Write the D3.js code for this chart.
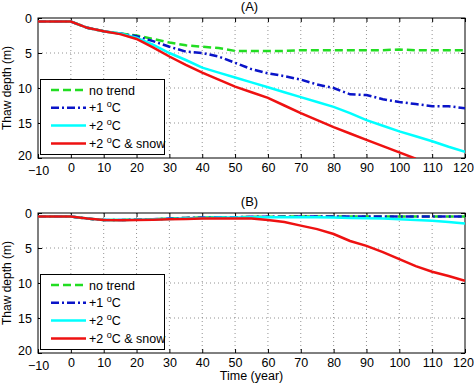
<!DOCTYPE html>
<html>
<head>
<meta charset="utf-8">
<script src="https://cdn.jsdelivr.net/npm/d3@7"></script>
<style>
    body { margin: 0; background: #fff; }
    svg text { font-family: "Liberation Sans", Arial, sans-serif; }
</style>
</head>
<body>
<div id="chart"></div>
<script>
(function()
{
    // shared time axis (year)
    var years = [-10, 0, 5, 10, 15, 20, 25, 30, 35, 40, 45, 50, 55, 60, 65, 70, 75, 80, 85, 90, 95, 100, 105, 110, 115, 120];

    // panel (A)
    var aNoTrend = [0.5, 0.5, 1.4, 1.9, 2.2, 2.5, 3.0, 3.5, 3.9, 4.1, 4.3, 4.7, 4.7, 4.7, 4.7, 4.6, 4.6, 4.6, 4.6, 4.6, 4.6, 4.5, 4.6, 4.6, 4.6, 4.6];
    var aPlus1 = [0.5, 0.5, 1.4, 1.9, 2.2, 2.6, 3.3, 4.1, 4.8, 5.0, 5.5, 6.4, 7.3, 7.9, 8.3, 8.8, 9.5, 10.0, 10.9, 11.0, 11.6, 12.0, 12.3, 12.6, 12.6, 12.9];
    var aPlus2 = [0.5, 0.5, 1.4, 1.9, 2.2, 2.8, 3.8, 5.0, 6.0, 7.1, 7.8, 8.5, 9.2, 9.9, 10.6, 11.3, 12.0, 12.7, 13.6, 14.6, 15.4, 16.2, 16.9, 17.6, 18.4, 19.1];
    var aSnow = [0.5, 0.5, 1.4, 1.9, 2.3, 3.0, 4.2, 5.5, 6.7, 7.8, 8.8, 9.8, 10.6, 11.4, 12.5, 13.6, 14.6, 15.6, 16.5, 17.4, 18.3, 19.2, 20.1, null, null, null];

    // panel (B)
    var bNoTrend = [0.5, 0.5, 0.8, 1.0, 1.0, 0.95, 0.9, 0.8, 0.7, 0.65, 0.6, 0.6, 0.55, 0.55, 0.5, 0.5, 0.5, 0.5, 0.5, 0.5, 0.5, 0.5, 0.5, 0.5, 0.5, 0.5];
    var bPlus1 = [0.5, 0.5, 0.8, 1.0, 1.0, 0.95, 0.9, 0.8, 0.7, 0.65, 0.6, 0.6, 0.55, 0.55, 0.55, 0.5, 0.5, 0.5, 0.5, 0.5, 0.5, 0.5, 0.5, 0.5, 0.5, 0.5];
    var bPlus2 = [0.5, 0.5, 0.8, 1.0, 1.0, 0.95, 0.9, 0.85, 0.75, 0.7, 0.65, 0.65, 0.6, 0.6, 0.6, 0.6, 0.6, 0.65, 0.7, 0.75, 0.8, 0.9, 1.0, 1.1, 1.3, 1.5];
    var bSnow = [0.5, 0.5, 0.8, 1.0, 1.05, 1.0, 0.95, 0.9, 0.85, 0.8, 0.8, 0.8, 0.8, 1.0, 1.3, 1.8, 2.3, 3.0, 4.0, 4.7, 5.6, 6.6, 7.6, 8.4, 9.0, 9.7];

    var seriesNames = ['no trend', '+1 \u00B0C', '+2 \u00B0C', '+2 \u00B0C & snow'];
    var xTicks = [-10, 0, 10, 20, 30, 40, 50, 60, 70, 80, 90, 100, 110, 120];
    var yTicks = [0, 5, 10, 15, 20];

    var styles = [
        { color : '#22dd22', dash : '8,4' },
        { color : '#0a14c8', dash : '8,3,2,3' },
        { color : '#00ffff', dash : null },
        { color : '#ee1111', dash : null }
    ];

    var W = 474, H = 384;
    var svg = d3.select('#chart').append('svg').attr('width', W).attr('height', H);

    var x = d3.scaleLinear().domain([-10, 120]).range([38, 465]);

    var panels = [
        { title : '(A)', top : 18, data : [aNoTrend, aPlus1, aPlus2, aSnow], legendTop : 79 },
        { title : '(B)', top : 213, data : [bNoTrend, bPlus1, bPlus2, bSnow], legendTop : 274 }
    ];

    panels.forEach(function(p, pi)
    {
        var y = d3.scaleLinear().domain([0, 20]).range([p.top, p.top + 140]);
        var g = svg.append('g');
        var clipId = 'clip' + pi;

        g.append('clipPath').attr('id', clipId).append('rect')
            .attr('x', x(-10)).attr('y', y(0))
            .attr('width', x(120) - x(-10)).attr('height', y(20) - y(0));

        // dotted grid
        g.selectAll('line.gx').data(xTicks.slice(1, -1)).enter().append('line')
            .attr('x1', function(d) { return x(d); }).attr('x2', function(d) { return x(d); })
            .attr('y1', y(0)).attr('y2', y(20))
            .attr('stroke', '#777').attr('stroke-width', 0.8).attr('stroke-dasharray', '1,3');
        g.selectAll('line.gy').data(yTicks.slice(1, -1)).enter().append('line')
            .attr('x1', x(-10)).attr('x2', x(120))
            .attr('y1', function(d) { return y(d); }).attr('y2', function(d) { return y(d); })
            .attr('stroke', '#777').attr('stroke-width', 0.8).attr('stroke-dasharray', '1,3');

        // axes with inward ticks on all four sides
        var axB = g.append('g').attr('transform', 'translate(0,' + y(20) + ')')
            .call(d3.axisBottom(x).tickValues(xTicks).tickSizeInner(-4).tickSizeOuter(0).tickPadding(7)
                .tickFormat(d3.format('d')));
        var axT = g.append('g').attr('transform', 'translate(0,' + y(0) + ')')
            .call(d3.axisTop(x).tickValues(xTicks).tickSizeInner(-4).tickSizeOuter(0).tickFormat(''));
        var axL = g.append('g').attr('transform', 'translate(' + x(-10) + ',0)')
            .call(d3.axisLeft(y).tickValues(yTicks).tickSizeInner(-4).tickSizeOuter(0).tickPadding(6));
        var axR = g.append('g').attr('transform', 'translate(' + x(120) + ',0)')
            .call(d3.axisRight(y).tickValues(yTicks).tickSizeInner(-4).tickSizeOuter(0).tickFormat(''));

        [axB, axT, axL, axR].forEach(function(a)
        {
            a.select('.domain').remove();
            a.selectAll('text').attr('font-size', 12.5).attr('fill', '#000')
                .style('font-family', '"Liberation Sans", Arial, sans-serif');
            a.selectAll('line').attr('stroke', '#000');
        });
        axB.selectAll('text').text(function(d) { return d < 0 ? '\u2212' + Math.abs(d) : d; });
        axB.selectAll('text')
            .attr('dy', function(d) { return d === -10 ? '0.95em' : '0.71em'; })
            .attr('y', 5)
            .attr('x', function(d) { return d === 120 ? -2 : 0; });
        axL.selectAll('.tick').filter(function(d) { return d === 20; }).select('text').attr('dy', '0.1em');

        g.append('rect')
            .attr('x', x(-10)).attr('y', y(0))
            .attr('width', x(120) - x(-10)).attr('height', y(20) - y(0))
            .attr('fill', 'none').attr('stroke', '#000').attr('stroke-width', 1);

        var line = d3.line()
            .defined(function(d) { return d[1] !== null; })
            .x(function(d) { return x(d[0]); })
            .y(function(d) { return y(d[1]); });

        var lines = g.append('g').attr('clip-path', 'url(#' + clipId + ')');
        p.data.forEach(function(s, i)
        {
            var pts = years.map(function(yr, k) { return [yr, s[k]]; });
            lines.append('path').datum(pts)
                .attr('d', line)
                .attr('fill', 'none')
                .attr('stroke', styles[i].color)
                .attr('stroke-width', 2.5)
                .attr('stroke-dasharray', styles[i].dash);
        });

        // legend
        var lg = g.append('g');
        lg.append('rect').attr('x', 40.5).attr('y', p.legendTop + 0.5).attr('width', 124).attr('height', 75)
            .attr('fill', '#fff').attr('stroke', '#000').attr('stroke-width', 1);
        seriesNames.forEach(function(name, i)
        {
            var cy = p.legendTop + 11 + i * 17.8;
            lg.append('line').attr('x1', 51).attr('x2', 86).attr('y1', cy).attr('y2', cy)
                .attr('stroke', styles[i].color).attr('stroke-width', 2.5)
                .attr('stroke-dasharray', styles[i].dash);
            var t = lg.append('text').attr('x', 89).attr('y', cy + 4.5).attr('font-size', 12.5);
            if (i === 0) {
                t.text(name);
            } else {
                var parts = name.split('\u00B0');
                t.append('tspan').text(parts[0]);
                t.append('tspan').attr('dy', -5).attr('font-size', 9).text('o');
                t.append('tspan').attr('dy', 5).text(parts[1]);
            }
        });

        svg.append('text').attr('x', (x(-10) + x(120)) / 2 - 2).attr('y', p.top - 7)
            .attr('text-anchor', 'middle').attr('font-size', 13).text(p.title);

        svg.append('text')
            .attr('transform', 'translate(11,' + (p.top + 70) + ') rotate(-90)')
            .attr('text-anchor', 'middle').attr('font-size', 12).text('Thaw depth (m)');
    });

    svg.append('text').attr('x', (x(-10) + x(120)) / 2).attr('y', 380)
        .attr('text-anchor', 'middle').attr('font-size', 12.5).text('Time (year)');
})();
</script>
</body>
</html>
